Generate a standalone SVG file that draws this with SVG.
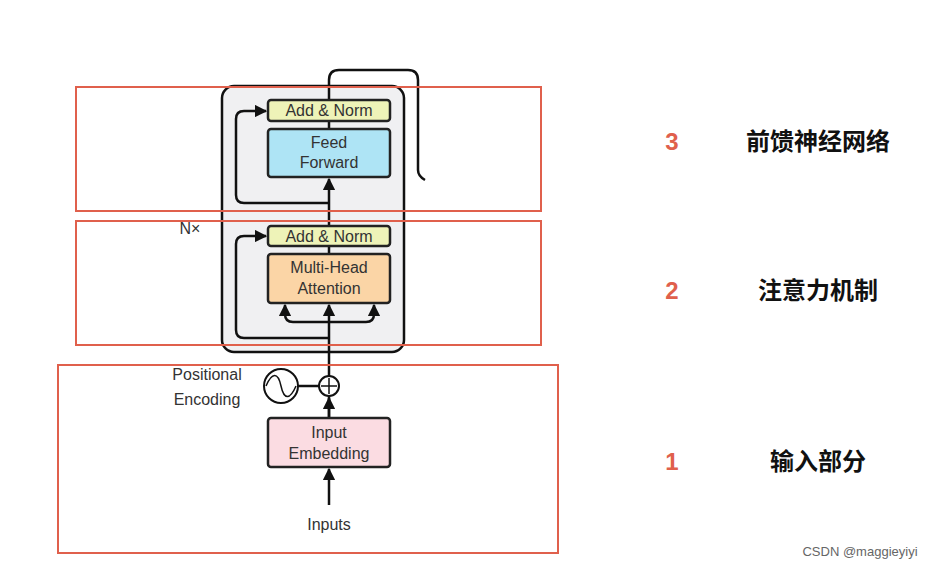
<svg xmlns="http://www.w3.org/2000/svg" width="940" height="568" viewBox="0 0 940 568">
<defs>
<marker id="ah" viewBox="0 0 10 10" refX="9" refY="5" markerWidth="5" markerHeight="5" orient="auto"><path d="M0,0 L10,5 L0,10 z" fill="#111"/></marker>
<style>
.blk{fill:none;stroke:#111;stroke-width:2.5}
.box{stroke:#222;stroke-width:2.5}
.t{font-family:"Liberation Sans",Arial,sans-serif;font-size:16px;fill:#333;text-anchor:middle}
.red{fill:none;stroke:#e0604c;stroke-width:2}
.num{font-family:"Liberation Sans",Arial,sans-serif;font-size:24px;font-weight:bold;fill:#e0604c;text-anchor:middle}
.cn{font-family:"Noto Sans CJK SC",sans-serif;font-size:24px;font-weight:bold;fill:#111;text-anchor:middle}
</style>
</defs>
<rect width="940" height="568" fill="#fff"/>
<g id="encoder"><rect x="222" y="86" width="182" height="266" rx="12" fill="#f0f0f2" stroke="#111" stroke-width="2.5"/></g>
<g id="connectors">
<path class="blk" d="M329,418 V396"/>
<path class="blk" d="M329,505 V469" marker-end="url(#ah)"/>
<path class="blk" d="M329,418 V398" marker-end="url(#ah)"/>
<path class="blk" d="M298,386 H319"/>
<path class="blk" d="M329,376 V305" marker-end="url(#ah)"/>
<path class="blk" d="M329,322 H293 Q285,322 285,314 V305" marker-end="url(#ah)"/>
<path class="blk" d="M329,322 H366 Q374,322 374,314 V305" marker-end="url(#ah)"/>
<path class="blk" d="M329,338 H244 Q236,338 236,330 V244 Q236,236 244,236 H266" marker-end="url(#ah)"/>
<path class="blk" d="M329,254 V246"/>
<path class="blk" d="M329,226 V179" marker-end="url(#ah)"/>
<path class="blk" d="M329,203 H244 Q236,203 236,195 V119 Q236,111 244,111 H266" marker-end="url(#ah)"/>
<path class="blk" d="M329,129 V121"/>
<path class="blk" d="M329,100 V80 Q329,70 339,70 H408 Q418,70 418,80 V170 Q418,176 425,180"/>
</g>
<g id="addnorm1"><rect class="box" x="268" y="100" width="122" height="21" rx="3" fill="#eef3b8"/><text class="t" x="329" y="116">Add &amp; Norm</text></g>
<g id="ff"><rect class="box" x="268" y="129" width="122" height="48" rx="3" fill="#aee4f5"/><text class="t" x="329" y="148">Feed</text><text class="t" x="329" y="168">Forward</text></g>
<g id="addnorm2"><rect class="box" x="268" y="226" width="122" height="20" rx="3" fill="#eef3b8"/><text class="t" x="329" y="242">Add &amp; Norm</text></g>
<g id="mha"><rect class="box" x="268" y="254" width="122" height="49" rx="3" fill="#fbd5a6"/><text class="t" x="329" y="273">Multi-Head</text><text class="t" x="329" y="294">Attention</text></g>
<g id="emb"><rect class="box" x="268" y="418" width="122" height="49" rx="3" fill="#fbdce2"/><text class="t" x="329" y="438">Input</text><text class="t" x="329" y="459">Embedding</text></g>
<g id="pe"><circle cx="281" cy="386" r="17" fill="#fff" stroke="#111" stroke-width="2"/><path d="M266,386 C272,372 278,372 281,386 C284,400 290,400 296,386" fill="none" stroke="#111" stroke-width="1.5"/><text class="t" x="207" y="380" font-size="17">Positional</text><text class="t" x="207" y="405" font-size="17">Encoding</text></g>
<g id="plus"><circle cx="329" cy="386" r="10" fill="#fff" stroke="#111" stroke-width="2"/><path d="M321,386 H337 M329,378 V394" stroke="#111" stroke-width="1.5"/></g>
<text class="t" x="190" y="234" fill="#555">N×</text>
<text class="t" x="329" y="530" font-size="17">Inputs</text>
<g id="regions">
<rect class="red" x="76" y="87" width="465" height="124"/>
<rect class="red" x="76" y="221" width="465" height="124"/>
<rect class="red" x="58" y="365" width="500" height="188"/>
</g>
<text class="num" x="672" y="150">3</text><text class="cn" x="818" y="150">前馈神经网络</text>
<text class="num" x="672" y="299">2</text><text class="cn" x="818" y="299">注意力机制</text>
<text class="num" x="672" y="470">1</text><text class="cn" x="818" y="470">输入部分</text>
<text x="860" y="556" font-family="Liberation Sans,Arial,sans-serif" font-size="13" fill="#666" text-anchor="middle">CSDN @maggieyiyi</text>
</svg>
